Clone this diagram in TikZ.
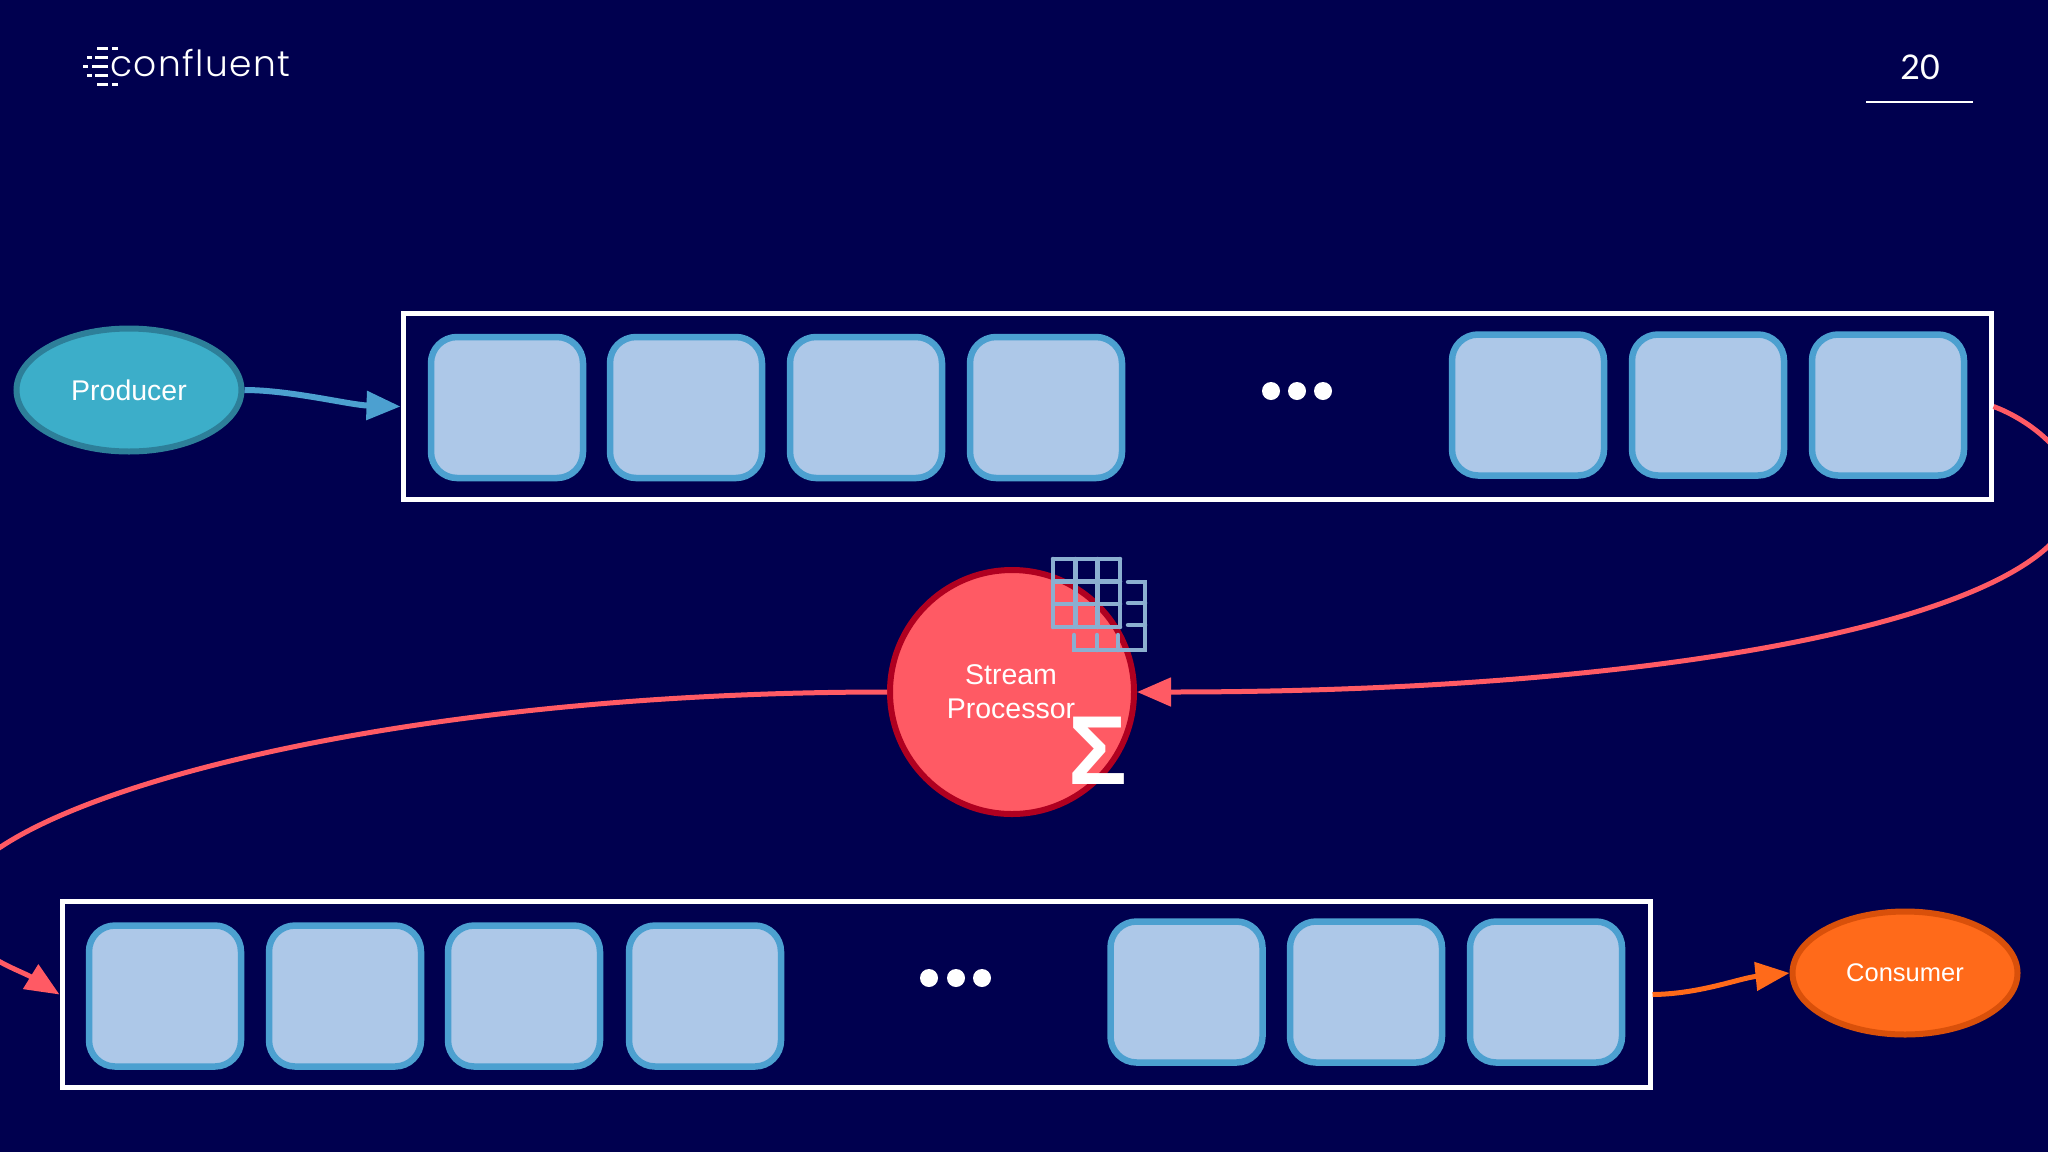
\documentclass[tikz,border=0pt]{standalone}
\usepackage{fontspec}
\setmainfont{Liberation Sans}
\newfontfamily\logofont[LetterSpace=4]{Poppins Light}
\newfontfamily\pagefont{Lato}
\usetikzlibrary{arrows.meta,shapes.geometric}
\definecolor{bgnavy}{HTML}{00004F}
\definecolor{cellfill}{HTML}{ADC8E8}
\definecolor{celledge}{HTML}{4CA0D0}
\definecolor{prodfill}{HTML}{3CAEC9}
\definecolor{prodedge}{HTML}{2D7F99}
\definecolor{consfill}{HTML}{FF6A1A}
\definecolor{consedge}{HTML}{D9500A}
\definecolor{procfill}{HTML}{FF5A64}
\definecolor{procedge}{HTML}{B00020}
\definecolor{iconblue}{HTML}{8BAFD0}
\tikzset{
  cellbox/.style={draw=celledge,fill=cellfill,line width=6.5pt,rounded corners=26pt,minimum width=152pt,minimum height=141pt,inner sep=0pt},
  logbox/.style={draw=white,line width=5pt,minimum width=1588pt,minimum height=186pt,inner sep=0pt},
  client/.style={ellipse,line width=6pt,minimum width=225pt,minimum height=123pt,inner sep=0pt,text=white},
  dotmark/.style={circle,fill=white,minimum size=18pt,inner sep=0pt},
  flow/.style={line width=5pt,-{Triangle[length=34pt,width=28pt]}},
}
\begin{document}
\begin{tikzpicture}[x=1pt,y=-1pt]
\useasboundingbox (0,0) rectangle (2048,1152);
\clip (0,0) rectangle (2048,1152);
\fill[bgnavy] (0,0) rectangle (2048,1152);
% logo and page number
\foreach \y/\xa/\xb/\xc/\xd in {48/97/108/112/118,57/87/92/95/108,66/83/88/92/108,75/87/92/95/108,84/97/108/112/118}{
  \draw[white,line width=3pt] (\xa,\y) -- (\xb,\y);
  \draw[white,line width=3pt] (\xc,\y) -- (\xd,\y);
}
\node[text=white,anchor=base west,inner sep=0pt,font=\logofont\fontsize{36}{40}\selectfont] (logo) at (110,76) {confluent};
\node[text=white,font=\pagefont\fontsize{34}{40}\selectfont] (pagenum) at (1920,67) {20};
\draw[white,line width=2pt] (1866,102) -- (1973,102);
% top log
\node[logbox] (toplog) at (1197,406.5) {};
\foreach \name/\x/\y in {a/507/407.5,b/686/407.5,c/866/407.5,d/1046/407.5,e/1528/405,f/1708/405,g/1888/405}
  \node[cellbox] (top\name) at (\x,\y) {};
\foreach \name/\x in {a/1271,b/1297,c/1323}
  \node[dotmark] (topdot\name) at (\x,391) {};
% bottom log
\node[logbox] (botlog) at (856,994.5) {};
\foreach \name/\x/\y in {a/165/996,b/345/996,c/524/996,d/705/996,e/1186.5/992,f/1366/992,g/1546/992}
  \node[cellbox] (bot\name) at (\x,\y) {};
\foreach \name/\x in {a/929,b/956,c/982}
  \node[dotmark] (botdot\name) at (\x,978) {};
% clients
\node[client,draw=prodedge,fill=prodfill,font=\fontsize{28.5}{30}\selectfont] (producer) at (129,390) {Producer};
\node[client,draw=consedge,fill=consfill,font=\fontsize{25.5}{30}\selectfont] (consumer) at (1905,973) {Consumer};
% stream processor
\node[circle,draw=procedge,fill=procfill,line width=6pt,minimum size=244pt,inner sep=0pt] (stream) at (1012,692) {};
\node[text=white,align=center,font=\fontsize{28.5}{34}\selectfont] (streamtext) at (1011,692) {Stream\\Processor};
\node[text=white,inner sep=0pt,font=\bfseries\fontsize{98}{98}\selectfont] (sigma) at (1098,751) {Σ};
% state store icon
\foreach \i in {0,1,2,3}{
  \draw[iconblue,line width=4.5pt,line cap=round] (1053+22.3*\i,559) -- (1053+22.3*\i,627);
  \draw[iconblue,line width=4.5pt,line cap=round] (1053,559+22.6*\i) -- (1120,559+22.6*\i);
}
\draw[iconblue,line width=4.5pt,line cap=round] (1128,582) -- (1145,582) -- (1145,650) -- (1074,650) -- (1074,635);
\foreach \y in {603,625}
  \draw[iconblue,line width=4.5pt,line cap=round] (1128,\y) -- (1145,\y);
\foreach \x in {1097,1118}
  \draw[iconblue,line width=4.5pt,line cap=round] (\x,635) -- (\x,650);
% connectors
\coordinate (offright) at (2075,495);
\coordinate (offleft) at (-45,905);
\draw[flow,celledge,line width=6pt] (producer.east) .. controls (290,390) and (350,405) .. (toplog.west);
\draw[flow,consfill,line width=5pt] (botlog.east) .. controls (1700,994) and (1740,978) .. (consumer.west);
\draw[procfill,line width=5pt] (toplog.east) .. controls (2030,420) and (2075,455) .. (offright);
\draw[flow,procfill] (offright) .. controls (2075,610) and (1700,692) .. (stream.east);
\draw[procfill,line width=5pt] (stream.west) .. controls (350,692) and (-45,812) .. (offleft);
\draw[flow,procfill] (offleft) .. controls (-45,950) and (20,970) .. (botlog.west);
\end{tikzpicture}
\end{document}
